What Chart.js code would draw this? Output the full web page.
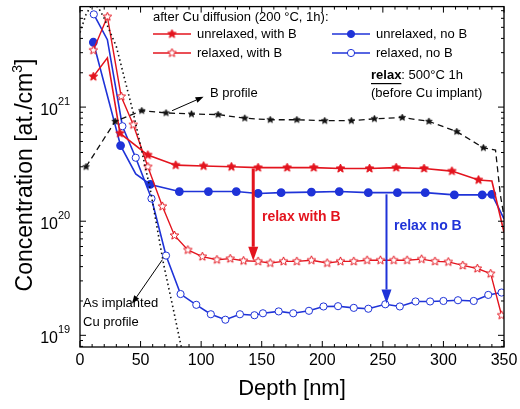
<!DOCTYPE html>
<html><head><meta charset="utf-8">
<script src="https://cdn.jsdelivr.net/npm/chart.js@4"></script>
<style>html,body{margin:0;padding:0;background:#fff}#w{width:520px;height:409px}</style>
</head><body><div id="w"><canvas id="c"></canvas></div>
<script>
const unrelWithB_x=[11,22.6,33,56,79,102,125,147,171,193,215,239,261,284,307,329,340,350];
const unrelWithB_y=[1.85e21,2.7e21,5.9e20,3.8e20,3.1e20,3.05e20,3.0e20,2.95e20,2.95e20,2.95e20,2.9e20,2.9e20,2.95e20,2.9e20,2.75e20,2.3e20,2.25e20,8e19];
const unrelNoB_x=[11,33.5,46,58,82,106,129,147,166,191,214,238,262,285,309,332,340,350];
const unrelNoB_y=[3.7e21,4.6e20,2.6e20,2.1e20,1.82e20,1.82e20,1.82e20,1.75e20,1.78e20,1.8e20,1.82e20,1.78e20,1.78e20,1.78e20,1.7e20,1.7e20,1.72e20,1.05e20];
const relWithB_x=[11,22.6,34,44,56,68,78,89,101,113,124,135,147,157,168,179,191,204,215,226,237,248,259,270,282,293,304,316,328,339,348];
const relWithB_y=[3.15e21,6.2e21,1.24e21,7e20,3.0e20,1.35e20,7.5e19,5.6e19,4.9e19,4.6e19,4.7e19,4.5e19,4.45e19,4.3e19,4.45e19,4.45e19,4.55e19,4.3e19,4.45e19,4.45e19,4.55e19,4.55e19,4.55e19,4.55e19,4.65e19,4.45e19,4.4e19,4.1e19,3.85e19,3.47e19,1.5e19];
const relNoB_x=[11.4,22.6,35,46,59,71,83,96,108,120,132,144,151,164,176,189,201,213,226,238,252,264,277,289,300,312,325,337,348];
const relNoB_y=[6.5e21,3.9e21,6.8e20,3.6e20,1.58e20,5.0e19,2.3e19,1.85e19,1.53e19,1.37e19,1.53e19,1.5e19,1.56e19,1.62e19,1.56e19,1.64e19,1.79e19,1.8e19,1.74e19,1.71e19,1.87e19,1.79e19,1.98e19,1.98e19,2.0e19,2.03e19,2.0e19,2.26e19,2.37e19];
const bProf_x=[5,29,51,71,92,114,136,157,179,202,224,243,266,288,311,333,343,347,350];
const bProf_y=[3.0e20,7.5e20,9.3e20,8.9e20,8.7e20,8.6e20,8.0e20,7.75e20,7.75e20,7.6e20,7.6e20,7.9e20,8.1e20,7.5e20,6.1e20,4.4e20,4.2e20,1.7e20,1.1e20];
const bMarks=[1,1,1,1,1,1,1,1,1,1,1,1,1,1,1,1,0,0,0];
const cuImpl_x=[0,5,10,15,20,30,44,58,69,77,82,86];
const cuImpl_y=[4.5e21,6.5e21,8e21,7.5e21,6e21,3.4e21,8.9e20,1.9e20,4.2e19,1.7e19,9.5e18,6e18];
const xTicks=[0,50,100,150,200,250,300,350];
const yDecades=[19,20,21];

const RED='#e3141e',BLUE='#1f33d8';
function star(r,fill,stroke,lw){const s=2*r+4,c=document.createElement('canvas');c.width=c.height=s;const g=c.getContext('2d');g.beginPath();for(let i=0;i<10;i++){const a=-Math.PI/2+i*Math.PI/5,rr=i%2?r*0.45:r;g.lineTo(s/2+rr*Math.cos(a),s/2+rr*Math.sin(a));}g.closePath();g.fillStyle=fill;g.fill();g.strokeStyle=stroke;g.lineWidth=lw;g.stroke();return c;}
const sFill=star(4.5,RED,RED,1),sOpen=star(4.5,'#fff',RED,1),sBlk=star(3.5,'#111','#111',0.8);
const pts=(xs,ys)=>xs.map((x,i)=>({x,y:ys[i]}));

const deco={id:'deco',afterDatasetsDraw(ch){
 const g=ch.ctx,xs=ch.scales.x,ys=ch.scales.y,a=ch.chartArea;
 const X=v=>xs.getPixelForValue(v),Y=v=>ys.getPixelForValue(v);
 g.save();g.strokeStyle='#000';g.lineWidth=1.3;g.strokeRect(a.left,a.top,a.right-a.left,a.bottom-a.top);
 g.lineWidth=1;g.fillStyle='#000';
 for(let v=0;v<=350;v+=10){const p=X(v),L=v%50?3:6;g.beginPath();g.moveTo(p,a.bottom);g.lineTo(p,a.bottom-L);g.moveTo(p,a.top);g.lineTo(p,a.top+L);g.stroke();}
 g.font='16px "Liberation Sans",Arial';g.textAlign='center';g.textBaseline='top';
 xTicks.forEach(v=>g.fillText(String(v),X(v),a.bottom+6));
 for(let d=18;d<=21;d++)for(let m=1;m<10;m++){const v=m*Math.pow(10,d);if(v<ys.min||v>ys.max)continue;const p=Y(v),L=m==1?6:3;g.beginPath();g.moveTo(a.left,p);g.lineTo(a.left+L,p);g.moveTo(a.right,p);g.lineTo(a.right-L,p);g.stroke();}
 yDecades.forEach(d=>{const p=Y(Math.pow(10,d));g.textAlign='right';g.textBaseline='middle';g.font='16px "Liberation Sans",Arial';g.fillText('10',a.left-22,p+3);g.font='11px "Liberation Sans",Arial';g.textAlign='left';g.fillText(String(d),a.left-22,p-5);});
 g.font='22px "Liberation Sans",Arial';g.textAlign='center';g.textBaseline='alphabetic';g.fillText('Depth [nm]',292,395);
 g.save();g.translate(32,175);g.rotate(-Math.PI/2);const t='Concentration [at./cm';g.font='23px "Liberation Sans",Arial';const w1=g.measureText(t).width,w2=g.measureText(']').width;g.font='14px "Liberation Sans",Arial';const w3=g.measureText('3').width;const st=-(w1+w2+w3)/2;g.textAlign='left';g.font='23px "Liberation Sans",Arial';g.fillText(t,st,0);g.font='14px "Liberation Sans",Arial';g.fillText('3',st+w1,-10);g.font='23px "Liberation Sans",Arial';g.fillText(']',st+w1+w3,0);g.restore();
 g.font='13px "Liberation Sans",Arial';g.textAlign='left';g.textBaseline='middle';g.fillStyle='#000';
 g.fillText('after Cu diffusion (200 °C, 1h):',153,17);
 const leg=(x,y,col,img,txt)=>{g.strokeStyle=col;g.lineWidth=1.5;g.beginPath();g.moveTo(x,y);g.lineTo(x+38,y);g.stroke();g.drawImage(img,x+19-img.width/2,y-img.height/2);g.fillStyle='#000';g.fillText(txt,x+44,y);};
 const circ=(f)=>{const c=document.createElement('canvas');c.width=c.height=10;const q=c.getContext('2d');q.beginPath();q.arc(5,5,3.6,0,7);q.fillStyle=f?BLUE:'#fff';q.fill();q.strokeStyle=BLUE;q.lineWidth=1;q.stroke();return c;};
 leg(153,34,RED,sFill,'unrelaxed, with B');leg(153,53,RED,sOpen,'relaxed, with B');
 leg(332,34,BLUE,circ(1),'unrelaxed, no B');leg(332,53,BLUE,circ(0),'relaxed, no B');
 g.font='bold 13px "Liberation Sans",Arial';g.fillText('relax',371,75);const rw=g.measureText('relax').width;g.fillRect(371,83,rw,1.2);
 g.font='13px "Liberation Sans",Arial';g.fillText(': 500°C 1h',371+rw,75);g.fillText('(before Cu implant)',371,93);
 g.fillText('B profile',210,93);g.fillText('As implanted',83,303);g.fillText('Cu profile',83,322);
 const arrow=(x1,y1,x2,y2,col,lw,hl,hw)=>{g.strokeStyle=col;g.fillStyle=col;g.lineWidth=lw;const an=Math.atan2(y2-y1,x2-x1);g.beginPath();g.moveTo(x1,y1);g.lineTo(x2-hl*Math.cos(an),y2-hl*Math.sin(an));g.stroke();g.beginPath();g.moveTo(x2,y2);g.lineTo(x2-hl*Math.cos(an)+hw*Math.sin(an),y2-hl*Math.sin(an)-hw*Math.cos(an));g.lineTo(x2-hl*Math.cos(an)-hw*Math.sin(an),y2-hl*Math.sin(an)+hw*Math.cos(an));g.closePath();g.fill();};
 arrow(X(76),Y(9.3e20),X(102),Y(1.23e21),'#000',1,8,3);
 arrow(X(68),Y(4.6e19),X(43),Y(1.9e19),'#000',1,8,3);
 arrow(X(143),Y(2.9e20),X(143),Y(4.5e19),RED,3,14,5);
 arrow(X(253),Y(1.72e20),X(253),Y(1.9e19),BLUE,2,14,5);
 g.font='bold 14px "Liberation Sans",Arial';g.fillStyle=RED;g.fillText('relax with B',262,217);g.fillStyle=BLUE;g.fillText('relax no B',394,226);
 g.restore();
}};

new Chart(document.getElementById('c'),{type:'scatter',
 data:{datasets:[
  {data:pts(cuImpl_x,cuImpl_y),showLine:true,borderColor:'#111',borderWidth:1.6,borderDash:[1.5,3],pointRadius:0},
  {data:pts(bProf_x,bProf_y),showLine:true,borderColor:'#111',borderWidth:1.3,borderDash:[6,4],pointStyle:bProf_x.map((_,i)=>bMarks[i]?sBlk:false),pointRadius:bMarks.map(m=>m?4:0)},
  {data:pts(unrelWithB_x,unrelWithB_y),showLine:true,borderColor:RED,borderWidth:1.6,pointStyle:sFill,pointRadius:unrelWithB_x.map((x,i)=>(i==1||i==16||i==17)?0:5)},
  {data:pts(relWithB_x,relWithB_y),showLine:true,borderColor:RED,borderWidth:1.4,pointStyle:sOpen,pointRadius:5},
  {data:pts(unrelNoB_x,unrelNoB_y),showLine:true,borderColor:BLUE,borderWidth:1.6,pointStyle:'circle',backgroundColor:BLUE,pointBorderColor:BLUE,pointRadius:unrelNoB_x.map((x,i)=>(i==2||i==17)?0:3.6)},
  {data:pts(relNoB_x,relNoB_y),showLine:true,borderColor:BLUE,borderWidth:1.6,pointStyle:'circle',backgroundColor:'#fff',pointBorderColor:BLUE,pointBorderWidth:1,pointRadius:relNoB_x.map((x,i)=>i==1?0:3.6)}
 ]},
 options:{responsive:true,maintainAspectRatio:false,animation:false,
  layout:{padding:{top:3,right:16,left:0,bottom:0}},
  plugins:{legend:{display:false},tooltip:{enabled:false}},
  scales:{
   x:{type:'linear',min:0,max:350,grid:{display:false},border:{display:false},ticks:{display:false},afterFit(s){s.height=62;}},
   y:{type:'logarithmic',min:7.9e18,max:7.6e21,grid:{display:false},border:{display:false},ticks:{display:false},afterFit(s){s.width=80;}}
  }},
 plugins:[deco]});
</script></body></html>
